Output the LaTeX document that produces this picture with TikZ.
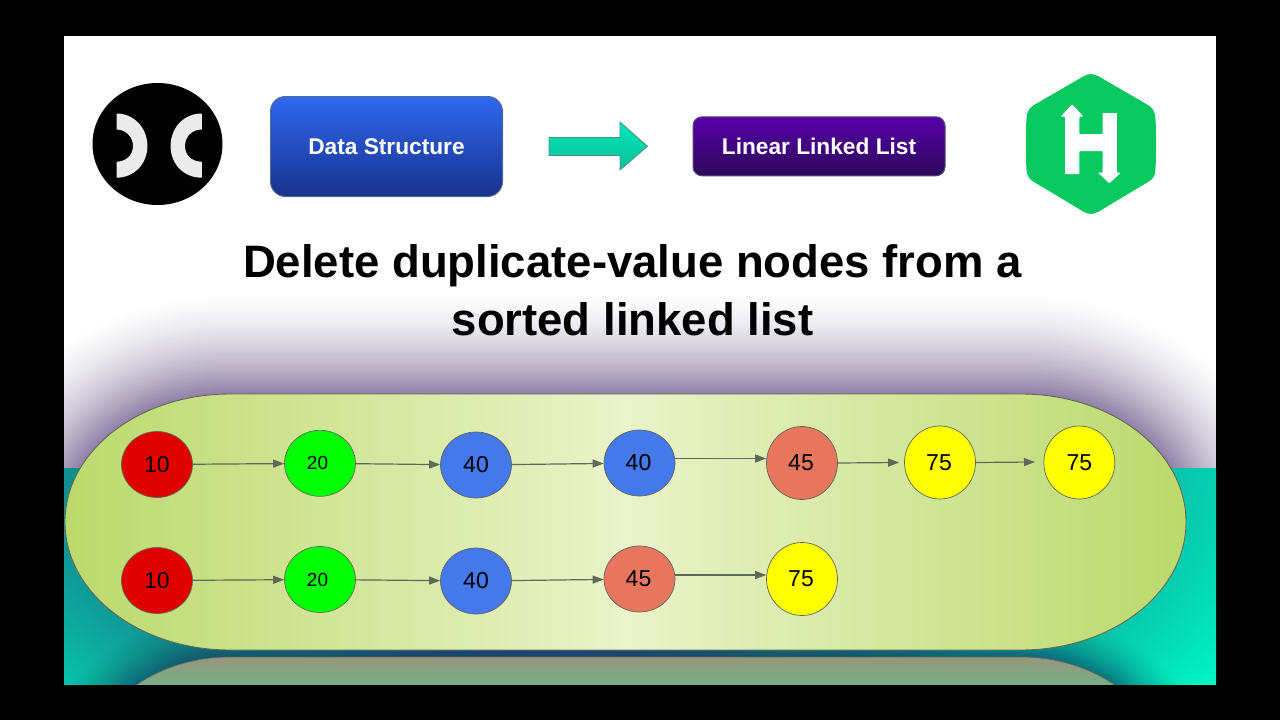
\documentclass[tikz,border=0pt]{standalone}
\usepackage{fontspec}
\setmainfont{Liberation Sans}
\usetikzlibrary{shapes.geometric,arrows.meta,positioning}
\definecolor{tealbright}{RGB}{0,245,195}
\definecolor{tealdark}{RGB}{28,88,118}
\definecolor{shadowpurple}{RGB}{110,85,140}
\definecolor{shadowblue}{RGB}{30,70,110}
\definecolor{pillside}{RGB}{188,217,108}
\definecolor{pillmid}{RGB}{234,243,202}
\definecolor{edgegray}{RGB}{95,105,90}
\pgfdeclareradialshading{tealglow}{\pgfpoint{0bp}{0bp}}{color(0bp)=(tealdark);color(6.5bp)=(tealdark);color(17bp)=(tealbright);color(50bp)=(tealbright)}
\def\pillA{(230,394) -- (1021,394) .. controls (1112,394) and (1186,451) .. (1186,522)
  .. controls (1186,593) and (1112,650) .. (1021,650) -- (230,650)
  .. controls (139,650) and (65,593) .. (65,522) .. controls (65,451) and (139,394) .. (230,394) -- cycle}
\def\pillB{(230,657) -- (1021,657) .. controls (1104,657) and (1171,714) .. (1171,785) -- (80,785) .. controls (80,714) and (147,657) .. (230,657) -- cycle}
\newcommand{\glowrings}[4]{%
  \foreach \i in {1,...,44}{%
    \pgfmathsetmacro\dd{#3*(1-\i/44)}%
    \pgfmathsetmacro\aa{1-(1-#4*(\i/44)^2)/(1-#4*((\i-1)/44)^2)}%
    \draw[draw=#1,line width=2*\dd pt,line join=round,draw opacity=\aa] #2;%
  }%
}
\tikzset{
  lnode/.style={ellipse,draw=edgegray,line width=.7pt,minimum width=71pt,minimum height=66pt,inner sep=0pt,text=black,font=\fontsize{23}{23}\selectfont},
  tall/.style={minimum height=73pt},
  link/.style={draw=edgegray,line width=1.2pt,-{Triangle[length=11pt,width=8pt]}},
  redn/.style={lnode,fill={rgb,255:red,224;green,0;blue,0}},
  greenn/.style={lnode,fill={rgb,255:red,0;green,255;blue,0},font=\fontsize{19}{19}\selectfont},
  bluen/.style={lnode,fill={rgb,255:red,68;green,120;blue,235}},
  salmonn/.style={lnode,fill={rgb,255:red,232;green,118;blue,95}},
  yellown/.style={lnode,tall,fill={rgb,255:red,255;green,255;blue,0}},
  boxtext/.style={text=white,font=\bfseries\fontsize{22.7}{24}\selectfont},
}
\begin{document}
\begin{tikzpicture}[x=1pt,y=-1pt]
\useasboundingbox (0,0) rectangle (1280,720);
\fill[black] (0,0) rectangle (1280,720);
\begin{scope}
\clip (64,36) rectangle (1216,684);
\fill[white] (64,36) rectangle (1216,468);
% glow on the white part
\begin{scope}
\clip (64,36) rectangle (1216,468);
\glowrings{shadowpurple}{\pillA}{110}{.7}
\end{scope}
% glow on the teal part
\begin{scope}
\clip (64,468) rectangle (1216,684);
\shade[shading=tealglow] (-620,-130) rectangle (1700,1070);
\glowrings{shadowblue}{\pillB}{50}{.6}
\end{scope}
% lower pill
\shade[top color={rgb,255:red,150;green,150;blue,125},bottom color={rgb,255:red,17;green,255;blue,172},draw=edgegray,line width=.7pt] \pillB;
% upper pill
\shade[left color=pillside,right color=pillside,middle color=pillmid,draw=edgegray,line width=.9pt] \pillA;
\end{scope}
% left logo
\node[ellipse,fill=black,minimum width=130pt,minimum height=122pt,inner sep=0pt] (logoc) at (157.5,144) {};
\fill[white!92!black] (116.5,113.5) .. controls (134,113.5) and (147.4,128) .. (147.4,146)
  .. controls (147.4,164) and (134,177.7) .. (116.5,177.7) -- (116.5,161.7)
  .. controls (126,161.7) and (133,155) .. (133,146) .. controls (133,137) and (126,129.5) .. (116.5,129.5) -- cycle;
\fill[white!92!black] (201.8,113.5) .. controls (183.5,113.5) and (170.6,128) .. (170.6,146)
  .. controls (170.6,164) and (183.5,177.7) .. (201.8,177.7) -- (201.8,161.7)
  .. controls (191.5,161.7) and (185,155) .. (185,146) .. controls (185,137) and (191.5,129.5) .. (201.8,129.5) -- cycle;
% data structure box
\node[rectangle,rounded corners=15pt,draw={rgb,255:red,80;green,105;blue,150},line width=1pt,
  top color={rgb,255:red,48;green,103;blue,238},bottom color={rgb,255:red,24;green,50;blue,140},
  minimum width=232pt,minimum height=100pt,inner sep=0pt,boxtext] (ds) at (386.5,146.5) {Data Structure};
% block arrow
\shade[top color={rgb,255:red,0;green,232;blue,188},bottom color={rgb,255:red,16;green,190;blue,150},draw={rgb,255:red,70;green,150;blue,130},line width=.8pt]
 (549,137.5) -- (620,137.5) -- (620,122) -- (647.5,146.3) -- (620,170) -- (620,155.5) -- (549,155.5) -- cycle;
% linear linked list box
\node[rectangle,rounded corners=9pt,draw={rgb,255:red,90;green,70;blue,125},line width=1pt,
  top color={rgb,255:red,86;green,0;blue,168},bottom color={rgb,255:red,44;green,10;blue,88},
  minimum width=252pt,minimum height=59pt,inner sep=0pt,boxtext] (lll) at (819,146.3) {Linear Linked List};
% hex logo
\fill[fill={rgb,255:red,8;green,200;blue,95}]
 (1084,76) .. controls (1089,73.5) and (1093,73.5) .. (1098,76) -- (1148,105)
 .. controls (1153,108) and (1155,112) .. (1155.4,118) .. controls (1156.4,135) and (1156.4,152) .. (1155.4,170)
 .. controls (1155,176) and (1153,179) .. (1148,182) -- (1098,212)
 .. controls (1093,214.5) and (1089,214.5) .. (1084,212) -- (1034,182)
 .. controls (1029,179) and (1027,176) .. (1026.5,170) .. controls (1025.5,152) and (1025.5,135) .. (1026.5,118)
 .. controls (1027,112) and (1029,108) .. (1034,105) -- cycle;
\fill[white,rounded corners=.8pt] (1072,104.3) -- (1083.5,116.7) -- (1079.4,116.7) -- (1079.4,134) -- (1102.7,134) -- (1102.7,113) -- (1116.8,113) -- (1116.8,172.7) -- (1120.7,172.7)
 -- (1109.3,183.3) -- (1098,172.7) -- (1102.7,172.7) -- (1102.7,151) -- (1079.4,151) -- (1079.4,174) -- (1065,174) -- (1065,116.7) -- (1060.7,116.7) -- cycle;
% title
\node[align=center,text=black,font=\bfseries\fontsize{45.5}{58}\selectfont,inner sep=0pt] (title) at (632.5,290.5) {Delete duplicate-value nodes from a\\sorted linked list};
% row one
\node[redn] (a1) at (157,464.5) {10};
\node[greenn] (a2) at (320,463.3) {\hspace*{-5pt}20};
\node[bluen] (a3) at (476,465) {40};
\node[bluen] (a4) at (639.5,463) {\hspace*{-2pt}40};
\node[salmonn,tall] (a5) at (802,463) {\hspace*{-2pt}45};
\node[yellown] (a6) at (940,462.5) {\hspace*{-2pt}75};
\node[yellown] (a7) at (1079.3,462.5) {75};
\coordinate (a7in) at (1035,462);
\draw[link] (a1) -- (a2);
\draw[link] (a2) -- (a3);
\draw[link] (a3) -- (a4);
\draw[link] ([yshift=4.5pt]a4.east) -- ([yshift=4.5pt]a5.west);
\draw[link] (a5.east) -- ([xshift=-5pt]a6.west);
\draw[link] (a6.east) -- (a7in);
% row two
\node[redn] (b1) at (157,580.5) {10};
\node[greenn] (b2) at (320,579.5) {\hspace*{-5pt}20};
\node[bluen] (b3) at (476,581) {40};
\node[salmonn] (b4) at (639.5,579) {\hspace*{-2pt}45};
\node[yellown] (b5) at (802,579) {\hspace*{-2pt}75};
\draw[link] (b1) -- (b2);
\draw[link] (b2) -- (b3);
\draw[link] (b3) -- (b4);
\draw[link] ([yshift=4pt]b4.east) -- ([yshift=4pt]b5.west);
\end{tikzpicture}
\end{document}
